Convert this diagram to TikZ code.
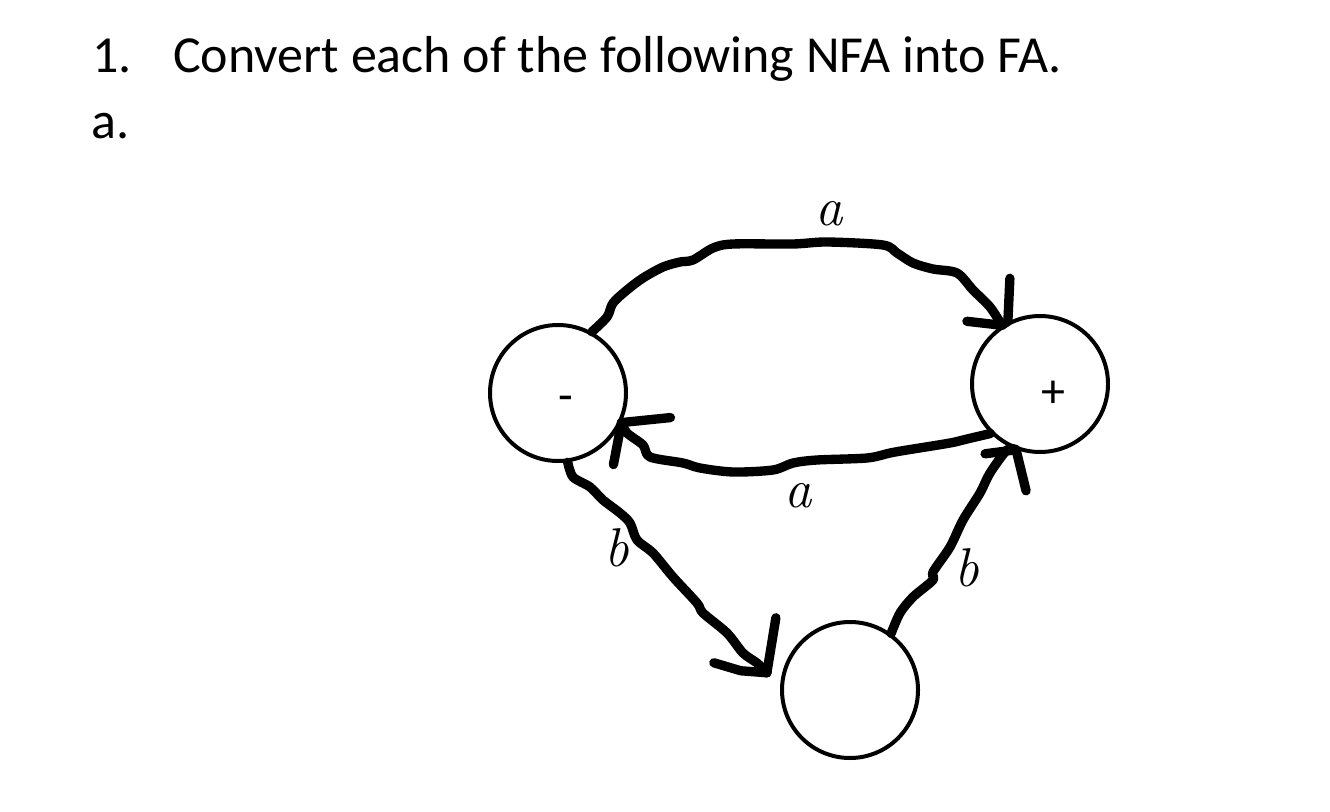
\documentclass[tikz,border=0pt]{standalone}
\usepackage{fontspec}
\newfontfamily\calibri{Carlito}
\usetikzlibrary{calc}
\begin{document}
\begin{tikzpicture}[x=0.75pt,y=-0.75pt,
  state/.style={draw,circle,line width=3pt,minimum size=102pt,inner sep=0pt},
  edge/.style={line width=7pt,line cap=round,line join=round},
  lbl/.style={inner sep=0pt,font=\fontsize{41}{48}\selectfont\itshape},
  title/.style={inner sep=0pt,anchor=base west,font=\calibri\fontsize{39}{46}\selectfont},
  sign/.style={inner sep=0pt,font=\calibri\fontsize{36}{42}\selectfont}]
\useasboundingbox (0,0) rectangle (1330,812);
% title
\node[title] (num) at (92,73) {1.};
\node[title] (ttl) at (173,73) {Convert each of the following NFA into FA.};
\node[title] (sub) at (91,139) {a.};
% states
\node[state] (L) at (558,393) {};
\node[state] (R) at (1040,384) {};
\node[state] (B) at (850,690) {};
\node[sign] (Lt) at (566,404) {-};
\node[sign] (Rt) at (1053,394) {+};
% top a : L -> R
\draw[edge] plot[smooth,tension=0.5] coordinates {(L.61) (607,317) (613,303) (627,290) (643,278) (663,267) (680,262) (693,260) (713,248) (733,244) (793,244) (827,242) (883,245) (897,253) (913,263) (933,269) (957,273) (973,290) (990,307) (R.123)};
\draw[edge] (R.123) -- ++(6,-4) -- ++(2,-43);
\draw[edge] (R.123) -- ++(-35,-4);
\node[lbl] (la1) at (829,214) {a};
% bottom a : R -> L
\draw[edge] plot[smooth,tension=0.5] coordinates {(R.225) (967,439) (950,443) (907,450) (890,453) (867,458) (817,460) (793,463) (773,470) (733,472) (700,468) (683,463) (650,457) (643,445) (627,433) (L.-25)};
\draw[edge] (L.-25) -- ++(49,-5);
\draw[edge] (L.-25) -- ++(-8,42);
\node[lbl] (la2) at (798,496) {a};
% left b : L -> B
\coordinate (tb) at ([xshift=-11pt,yshift=2pt]B.168);
\draw[edge] plot[smooth,tension=0.5] coordinates {(L.-82) (573,477) (590,487) (603,500) (620,513) (630,523) (637,540) (653,553) (673,577) (697,603) (703,613) (727,633) (743,653) (757,663) (tb)};
\draw[edge] (tb) -- ++(9,-55);
\draw[edge] (tb) -- ++(-26,-2) -- ++(-27,-8);
\node[lbl] (lb1) at (617,548) {b};
% right b : B -> R
\draw[edge] plot[smooth,tension=0.5] coordinates {(B.54) (900,613) (913,597) (933,580) (933,572) (950,547) (963,520) (980,493) (990,473) (1007,450) (R.250)};
\draw[edge] (R.250) -- ++(10,41);
\draw[edge] (R.250) -- ++(-31,4);
\node[lbl] (lb2) at (967,568) {b};
\end{tikzpicture}
\end{document}
